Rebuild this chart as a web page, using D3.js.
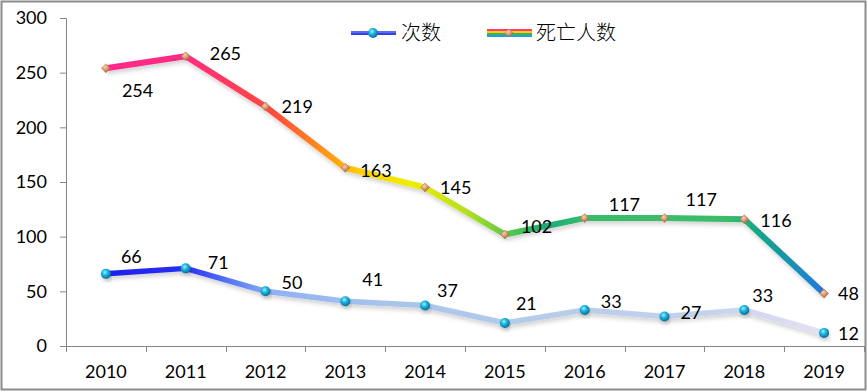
<!DOCTYPE html>
<html>
<head>
<meta charset="utf-8">
<script src="https://cdn.jsdelivr.net/npm/d3@7"></script>
<style>
  body { margin: 0; background: #fff; }
  text { font-family: Lato, "Open Sans", sans-serif; }
</style>
</head>
<body>
<script>
// data
var years = ["2010","2011","2012","2013","2014","2015","2016","2017","2018","2019"];
var counts = [66, 71, 50, 41, 37, 21, 33, 27, 33, 12];          // 次数
var deaths = [254, 265, 219, 163, 145, 102, 117, 117, 116, 48]; // 死亡人数
var yTicks = [0, 50, 100, 150, 200, 250, 300];
var seriesNames = ["次数", "死亡人数"];

// label nudges (dx, dy of the label centre from the point)
var countNudge = [[15,-17],[22,-6],[16,-9],[17,-22],[12,-15],[11,-20],[16,-8],[16,-4],[8,-14],[14,1]];
var deathNudge = [[16,22],[24,-3],[16,0],[15,3],[15,0],[16,-8],[24,-14],[21,-19],[16,1],[14,0]];

var W = 868, H = 392;
var margin = {left: 66, right: 4, top: 18, bottom: 46};

var svg = d3.select("body").append("svg").attr("width", W).attr("height", H);

svg.append("rect")
    .attr("x", 1.5).attr("y", 1.5)
    .attr("width", W - 4).attr("height", H - 4)
    .attr("fill", "#fff").attr("stroke", "#8c8c8c").attr("stroke-width", 2);

var x = d3.scaleBand().domain(years).range([margin.left, 864]);
var y = d3.scaleLinear().domain([0, 300]).range([346, 18]);
var cx = function(d, i) { return x(years[i]) + x.bandwidth() / 2; };

var defs = svg.append("defs");

// gradients along x
function gradient(id, stops) {
  var g = defs.append("linearGradient").attr("id", id)
      .attr("gradientUnits", "userSpaceOnUse")
      .attr("x1", x.range()[0]).attr("x2", x.range()[1]).attr("y1", 0).attr("y2", 0);
  stops.forEach(function(s) {
    g.append("stop").attr("offset", s[0]).attr("stop-color", s[1]);
  });
}
gradient("gCounts", [[0, "#1616ee"], [0.15, "#2a30f2"], [0.21, "#5a7cf6"], [0.26, "#8fb2f4"], [0.4, "#a8c4ec"], [0.6, "#b6cce8"], [0.8, "#c4d2ec"], [0.95, "#e6e0f4"], [1, "#ece4f6"]]);
gradient("gDeaths", [[0, "#ff2a8c"], [0.15, "#ff2c82"], [0.26, "#ff4a3c"], [0.33, "#ff9a14"], [0.37, "#ffd000"], [0.43, "#f0ee00"], [0.5, "#b8e020"], [0.57, "#40c058"], [0.6, "#18aa7c"], [0.65, "#38bc6a"], [0.83, "#3cbc68"], [0.87, "#14a48a"], [0.93, "#1c86c8"], [0.97, "#2c62f0"], [1, "#2c62f0"]]);

var shadow = defs.append("filter").attr("id", "shadow")
    .attr("x", "-10%").attr("y", "-20%").attr("width", "120%").attr("height", "160%");
shadow.append("feDropShadow").attr("dx", 1).attr("dy", 3).attr("stdDeviation", 2)
    .attr("flood-color", "#000").attr("flood-opacity", 0.18);

var ball = defs.append("radialGradient").attr("id", "ball")
    .attr("cx", "40%").attr("cy", "35%").attr("r", "65%");
ball.append("stop").attr("offset", 0).attr("stop-color", "#9ff0ff");
ball.append("stop").attr("offset", 0.45).attr("stop-color", "#18b4dc");
ball.append("stop").attr("offset", 1).attr("stop-color", "#0a6c98");

var bead = defs.append("radialGradient").attr("id", "bead")
    .attr("cx", "40%").attr("cy", "35%").attr("r", "65%");
bead.append("stop").attr("offset", 0).attr("stop-color", "#f6d2b6");
bead.append("stop").attr("offset", 0.5).attr("stop-color", "#d89a70");
bead.append("stop").attr("offset", 1).attr("stop-color", "#9a6040");

// axes
var yAxis = svg.append("g")
    .attr("transform", "translate(" + margin.left + ",0)")
    .call(d3.axisLeft(y).tickValues(yTicks).tickSize(6).tickPadding(13));
var xAxis = svg.append("g")
    .attr("transform", "translate(0,346)")
    .call(d3.axisBottom(x).tickSize(0).tickPadding(19));

[yAxis, xAxis].forEach(function(a) {
  a.select(".domain").attr("stroke", "#868686");
  a.selectAll(".tick line").attr("stroke", "#868686");
  a.selectAll("text").attr("font-size", 18).attr("fill", "#000")
      .style("font-family", "Lato, 'Open Sans', sans-serif");
});
xAxis.select(".domain").attr("d", "M" + margin.left + ",0.5H864");

// category boundary ticks
svg.append("g").selectAll("line")
    .data(years.concat(["end"]))
    .enter().append("line")
    .attr("x1", function(d, i) { return Math.round(margin.left + i * x.bandwidth()) + 0.5; })
    .attr("x2", function(d, i) { return Math.round(margin.left + i * x.bandwidth()) + 0.5; })
    .attr("y1", 346).attr("y2", 352)
    .attr("stroke", "#868686");

// lines
var line = d3.line().x(cx).y(function(d) { return y(d); });

svg.append("path").datum(deaths)
    .attr("d", line).attr("fill", "none")
    .attr("stroke", "url(#gDeaths)").attr("stroke-width", 6)
    .attr("stroke-linejoin", "round")
    .attr("filter", "url(#shadow)");

svg.append("path").datum(counts)
    .attr("d", line).attr("fill", "none")
    .attr("stroke", "url(#gCounts)").attr("stroke-width", 5.5)
    .attr("stroke-linejoin", "round")
    .attr("filter", "url(#shadow)");

// markers
svg.append("g").selectAll("path")
    .data(deaths).enter().append("path")
    .attr("d", "M0,-4.5L4.5,0L0,4.5L-4.5,0Z")
    .attr("transform", function(d, i) { return "translate(" + cx(d, i) + "," + y(d) + ")"; })
    .attr("fill", "url(#bead)").attr("stroke", "#b07850").attr("stroke-width", 0.5);

svg.append("g").selectAll("circle")
    .data(counts).enter().append("circle")
    .attr("cx", cx).attr("cy", function(d) { return y(d); })
    .attr("r", 5)
    .attr("fill", "url(#ball)")
    .attr("filter", "url(#shadow)");

// data labels
function labels(data, nudge) {
  svg.append("g").selectAll("text")
      .data(data).enter().append("text")
      .attr("x", function(d, i) { return cx(d, i) + nudge[i][0]; })
      .attr("y", function(d) { return y(d); })
      .attr("dy", function(d, i) { return nudge[i][1] + 6.5; })
      .attr("font-size", 18)
      .attr("fill", "#000")
      .text(function(d) { return d; });
}
labels(counts, countNudge);
labels(deaths, deathNudge);

// legend
var legend = svg.append("g").attr("transform", "translate(351,33)");
var leg1 = legend.append("g");
leg1.append("line").attr("x1", 0).attr("x2", 45).attr("y1", 0).attr("y2", 0)
    .attr("stroke", "#3440e8").attr("stroke-width", 4);
leg1.append("line").attr("x1", 0).attr("x2", 45).attr("y1", -1).attr("y2", -1)
    .attr("stroke", "#8a98f6").attr("stroke-width", 1);
leg1.append("circle").attr("cx", 22).attr("cy", 0).attr("r", 5).attr("fill", "url(#ball)");
leg1.append("text").attr("x", 50).attr("y", 7)
    .attr("font-size", 20)
    .style("font-family", "'Noto Sans CJK SC', sans-serif")
    .style("font-weight", 300)
    .text(seriesNames[0]);

var leg2 = legend.append("g").attr("transform", "translate(136,0)");
var rainbow = ["#ff3c78", "#ffcc00", "#38b848", "#2a9ae8"];
rainbow.forEach(function(c, i) {
  leg2.append("line").attr("x1", 0).attr("x2", 45)
      .attr("y1", -3 + i * 2).attr("y2", -3 + i * 2)
      .attr("stroke", c).attr("stroke-width", 2);
});
leg2.append("path").attr("d", "M0,-4L4.5,0L0,4L-4.5,0Z")
    .attr("transform", "translate(22,0)")
    .attr("fill", "url(#bead)");
leg2.append("text").attr("x", 49).attr("y", 7)
    .attr("font-size", 20)
    .style("font-family", "'Noto Sans CJK SC', sans-serif")
    .style("font-weight", 300)
    .text(seriesNames[1]);
</script>
</body>
</html>
